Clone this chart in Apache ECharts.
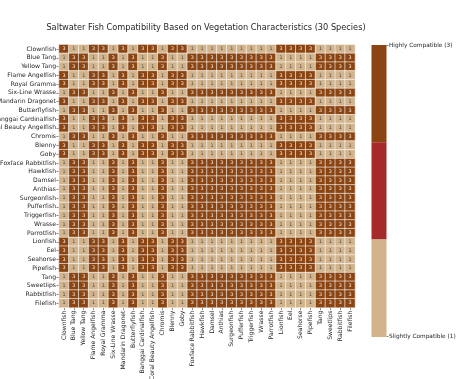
<!DOCTYPE html>
<html><head><meta charset="utf-8">
<script src="https://cdn.jsdelivr.net/npm/echarts@6/dist/echarts.min.js"></script>
<style>html,body{margin:0;padding:0;background:#fff}#c{width:474px;height:379px}</style>
</head><body><div id="c"></div>
<script>
const species = ["Clownfish","Blue Tang","Yellow Tang","Flame Angelfish","Royal Gramma","Six-Line Wrasse","Mandarin Dragonet","Butterflyfish","Banggai Cardinalfish","Coral Beauty Angelfish","Chromis","Blenny","Goby","Foxface Rabbitfish","Hawkfish","Damsel","Anthias","Surgeonfish","Pufferfish","Triggerfish","Wrasse","Parrotfish","Lionfish","Eel","Seahorse","Pipefish","Tang","Sweetlips","Rabbitfish","Filefish"];
const matrix = [
[3,1,1,3,3,1,3,1,3,3,1,3,3,1,1,1,1,1,1,1,1,1,3,3,3,3,1,1,1,1],
[1,3,3,1,1,3,1,3,1,1,3,1,1,3,3,3,3,3,3,3,3,3,1,1,1,1,3,3,3,3],
[1,3,3,1,1,3,1,3,1,1,3,1,1,3,3,3,3,3,3,3,3,3,1,1,1,1,3,3,3,3],
[3,1,1,3,3,1,3,1,3,3,1,3,3,1,1,1,1,1,1,1,1,1,3,3,3,3,1,1,1,1],
[3,1,1,3,3,1,3,1,3,3,1,3,3,1,1,1,1,1,1,1,1,1,3,3,3,3,1,1,1,1],
[1,3,3,1,1,3,1,3,1,1,3,1,1,3,3,3,3,3,3,3,3,3,1,1,1,1,3,3,3,3],
[3,1,1,3,3,1,3,1,3,3,1,3,3,1,1,1,1,1,1,1,1,1,3,3,3,3,1,1,1,1],
[1,3,3,1,1,3,1,3,1,1,3,1,1,3,3,3,3,3,3,3,3,3,1,1,1,1,3,3,3,3],
[3,1,1,3,3,1,3,1,3,3,1,3,3,1,1,1,1,1,1,1,1,1,3,3,3,3,1,1,1,1],
[3,1,1,3,3,1,3,1,3,3,1,3,3,1,1,1,1,1,1,1,1,1,3,3,3,3,1,1,1,1],
[1,3,3,1,1,3,1,3,1,1,3,1,1,3,3,3,3,3,3,3,3,3,1,1,1,1,3,3,3,3],
[3,1,1,3,3,1,3,1,3,3,1,3,3,1,1,1,1,1,1,1,1,1,3,3,3,3,1,1,1,1],
[3,1,1,3,3,1,3,1,3,3,1,3,3,1,1,1,1,1,1,1,1,1,3,3,3,3,1,1,1,1],
[1,3,3,1,1,3,1,3,1,1,3,1,1,3,3,3,3,3,3,3,3,3,1,1,1,1,3,3,3,3],
[1,3,3,1,1,3,1,3,1,1,3,1,1,3,3,3,3,3,3,3,3,3,1,1,1,1,3,3,3,3],
[1,3,3,1,1,3,1,3,1,1,3,1,1,3,3,3,3,3,3,3,3,3,1,1,1,1,3,3,3,3],
[1,3,3,1,1,3,1,3,1,1,3,1,1,3,3,3,3,3,3,3,3,3,1,1,1,1,3,3,3,3],
[1,3,3,1,1,3,1,3,1,1,3,1,1,3,3,3,3,3,3,3,3,3,1,1,1,1,3,3,3,3],
[1,3,3,1,1,3,1,3,1,1,3,1,1,3,3,3,3,3,3,3,3,3,1,1,1,1,3,3,3,3],
[1,3,3,1,1,3,1,3,1,1,3,1,1,3,3,3,3,3,3,3,3,3,1,1,1,1,3,3,3,3],
[1,3,3,1,1,3,1,3,1,1,3,1,1,3,3,3,3,3,3,3,3,3,1,1,1,1,3,3,3,3],
[1,3,3,1,1,3,1,3,1,1,3,1,1,3,3,3,3,3,3,3,3,3,1,1,1,1,3,3,3,3],
[3,1,1,3,3,1,3,1,3,3,1,3,3,1,1,1,1,1,1,1,1,1,3,3,3,3,1,1,1,1],
[3,1,1,3,3,1,3,1,3,3,1,3,3,1,1,1,1,1,1,1,1,1,3,3,3,3,1,1,1,1],
[3,1,1,3,3,1,3,1,3,3,1,3,3,1,1,1,1,1,1,1,1,1,3,3,3,3,1,1,1,1],
[3,1,1,3,3,1,3,1,3,3,1,3,3,1,1,1,1,1,1,1,1,1,3,3,3,3,1,1,1,1],
[1,3,3,1,1,3,1,3,1,1,3,1,1,3,3,3,3,3,3,3,3,3,1,1,1,1,3,3,3,3],
[1,3,3,1,1,3,1,3,1,1,3,1,1,3,3,3,3,3,3,3,3,3,1,1,1,1,3,3,3,3],
[1,3,3,1,1,3,1,3,1,1,3,1,1,3,3,3,3,3,3,3,3,3,1,1,1,1,3,3,3,3],
[1,3,3,1,1,3,1,3,1,1,3,1,1,3,3,3,3,3,3,3,3,3,1,1,1,1,3,3,3,3]
];
const levelColors = {1:"#D2B48C", 2:"#A52A2A", 3:"#8B4513"};
const colorbarLabels = ["Highly Compatible (3)", "Slightly Compatible (1)"];
const titleText = "Saltwater Fish Compatibility Based on Vegetation Characteristics (30 Species)";

const data = [];
matrix.forEach((row, r) => row.forEach((v, c) => {
  data.push({value:[c, r, v], label:{color: v >= 2 ? "#ffffff" : "#4a4a4a"}});
}));

const chart = echarts.init(document.getElementById('c'), null, {renderer:'canvas'});
const gL = 59, gT = 44.6, gW = 296, gH = 263;
chart.setOption({
  animation:false,
  backgroundColor:'#fff',
  title:{text:titleText, left:206, top:24, textAlign:'center', padding:0,
    textStyle:{fontFamily:'DejaVu Sans', fontSize:8.2, fontWeight:'normal', color:'#262626'}},
  grid:{left:gL, top:gT, width:gW, height:gH, outerBoundsMode:'none', containLabel:false},
  xAxis:{type:'category', data:species, position:'bottom',
    axisLine:{show:false}, splitLine:{show:false},
    axisTick:{show:true, length:2.5, alignWithLabel:true, lineStyle:{color:'#333', width:0.6}},
    axisLabel:{rotate:90, interval:0, fontSize:6.1, fontFamily:'DejaVu Sans', color:'#262626', margin:3}},
  yAxis:{type:'category', data:species, inverse:true,
    axisLine:{show:false}, splitLine:{show:false},
    axisTick:{show:true, length:2.5, alignWithLabel:true, lineStyle:{color:'#333', width:0.6}},
    axisLabel:{interval:0, fontSize:6.1, fontFamily:'DejaVu Sans', color:'#262626', margin:3}},
  visualMap:{type:'piecewise', dimension:2, orient:'vertical', left:371.5, top:45, padding:0,
    itemWidth:15, itemHeight:97.3, itemGap:0, showLabel:false, itemSymbol:'rect', selectedMode:false,
    pieces:[{value:3, color:levelColors[3]},{value:2, color:levelColors[2]},{value:1, color:levelColors[1]}]},
  graphic:[
    {type:'line', shape:{x1:386.5,y1:45.5,x2:388.5,y2:45.5}, style:{stroke:'#333', lineWidth:0.6}},
    {type:'line', shape:{x1:386.5,y1:336.5,x2:388.5,y2:336.5}, style:{stroke:'#333', lineWidth:0.6}},
    {type:'text', left:389, top:42, style:{text:colorbarLabels[0], fontSize:5.8, fontFamily:'DejaVu Sans', fill:'#262626'}},
    {type:'text', left:389, top:333, style:{text:colorbarLabels[1], fontSize:5.8, fontFamily:'DejaVu Sans', fill:'#262626'}}
  ],
  series:[{type:'heatmap', data:data,
    itemStyle:{borderColor:'#ffffff', borderWidth:0.6},
    label:{show:true, fontSize:4.8, fontFamily:'DejaVu Sans'},
    emphasis:{disabled:true}}]
});
</script></body></html>
